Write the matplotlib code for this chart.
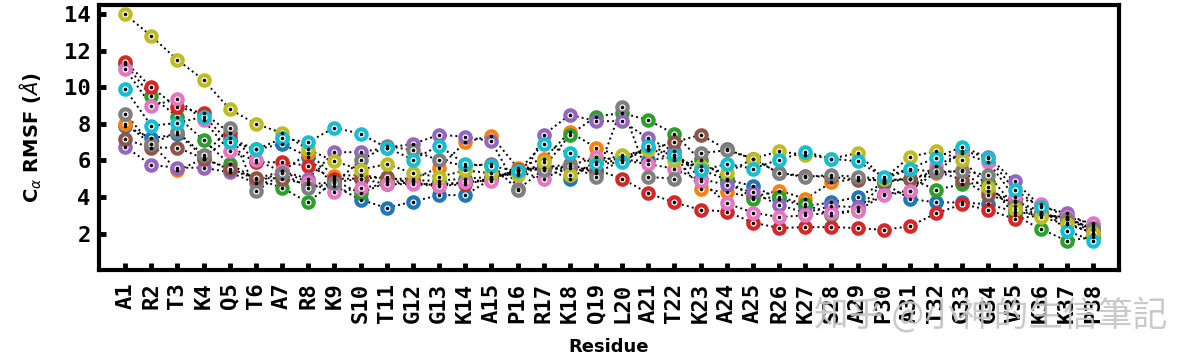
import numpy as np
import matplotlib.pyplot as plt

# residue labels along the x axis
residues = ['A1', 'R2', 'T3', 'K4', 'Q5', 'T6', 'A7', 'R8', 'K9', 'S10',
            'T11', 'G12', 'G13', 'K14', 'A15', 'P16', 'R17', 'K18', 'Q19', 'L20',
            'A21', 'T22', 'K23', 'A24', 'A25', 'R26', 'K27', 'S28', 'A29', 'P30',
            'A31', 'T32', 'G33', 'G34', 'V35', 'K36', 'K37', 'P38']

# C-alpha RMSF per replica (Angstrom)
rmsf_blue = [7.9, 7.2, 7.45, 6.2, 7.2, 6.6, 6.9, 6.2, 4.6, 3.85, 3.4, 3.75, 4.1, 4.1, 5.0, 5.5, 5.6, 5.0, 5.9, 6.0,
             6.0, 6.2, 5.5, 4.95, 4.6, 3.9, 3.5, 3.7, 4.0, 4.75, 3.9, 3.7, 3.7, 3.6, 3.2, 3.0, 2.9, 2.0]
rmsf_orange = [8.0, 6.9, 5.45, 6.1, 5.5, 5.0, 5.4, 6.4, 5.15, 5.2, 5.0, 5.0, 5.6, 7.0, 7.35, 5.6, 6.1, 7.55, 6.7, 6.2,
               6.6, 6.3, 4.45, 4.25, 4.0, 4.35, 3.9, 4.8, 5.0, 4.9, 5.0, 5.3, 5.45, 4.3, 3.8, 3.2, 2.6, 2.0]
rmsf_green = [11.3, 9.5, 8.4, 7.1, 5.8, 5.0, 4.5, 3.7, 4.9, 4.2, 4.8, 4.9, 4.9, 5.0, 5.1, 5.3, 5.6, 7.4, 8.4, 8.6,
              8.2, 7.45, 6.0, 5.0, 3.9, 4.0, 3.6, 3.0, 3.3, 4.8, 5.0, 4.4, 4.7, 4.8, 3.0, 2.25, 1.6, 1.8]
rmsf_red = [11.4, 10.0, 8.9, 8.6, 7.5, 5.9, 5.9, 5.7, 5.0, 5.0, 4.7, 4.8, 4.6, 4.7, 5.0, 5.5, 5.5, 5.6, 5.5, 5.0,
            4.2, 3.7, 3.3, 3.2, 2.6, 2.3, 2.35, 2.35, 2.3, 2.2, 2.4, 3.1, 3.6, 3.3, 2.8, 3.0, 2.9, 2.2]
rmsf_purple = [6.75, 5.75, 5.6, 5.6, 5.35, 4.75, 5.4, 5.0, 6.45, 6.45, 6.7, 6.9, 7.4, 7.3, 7.05, 4.45, 7.4, 8.5, 8.15, 8.15,
               7.2, 6.5, 5.0, 4.65, 4.25, 3.55, 3.15, 3.5, 3.45, 4.15, 4.35, 5.35, 6.5, 6.2, 4.85, 3.5, 3.1, 2.4]
rmsf_brown = [7.15, 6.7, 6.7, 6.1, 5.55, 5.05, 5.0, 4.7, 4.8, 5.0, 5.1, 4.75, 4.7, 4.8, 5.0, 5.5, 5.6, 5.8, 5.3, 6.0,
              6.6, 7.0, 7.4, 6.6, 6.1, 5.3, 5.15, 5.1, 4.95, 4.9, 5.0, 5.4, 4.95, 4.1, 3.7, 3.1, 2.8, 2.2]
rmsf_pink = [11.0, 9.0, 9.35, 8.2, 6.5, 6.0, 5.4, 4.8, 4.25, 4.5, 4.7, 4.7, 4.6, 4.8, 4.9, 5.4, 5.0, 5.7, 6.2, 6.0,
             5.8, 5.55, 4.9, 3.65, 3.15, 2.9, 3.0, 3.15, 3.25, 4.1, 4.3, 5.7, 6.4, 5.9, 4.0, 3.6, 2.9, 2.55]
rmsf_gray = [8.55, 6.9, 7.55, 6.3, 7.75, 4.3, 5.3, 4.5, 4.75, 6.0, 6.8, 6.55, 6.0, 5.7, 5.8, 4.4, 5.5, 5.7, 5.1, 8.95,
             5.1, 5.0, 6.4, 6.55, 6.1, 5.3, 5.1, 5.2, 5.1, 5.0, 5.5, 5.4, 5.4, 5.2, 3.5, 3.0, 2.8, 2.3]
rmsf_olive = [14.0, 12.8, 11.5, 10.4, 8.8, 8.0, 7.5, 6.6, 5.95, 5.5, 5.8, 5.3, 5.1, 5.45, 5.3, 5.2, 5.9, 5.2, 5.9, 6.3,
              6.55, 6.0, 5.7, 5.3, 6.1, 6.5, 6.3, 6.1, 6.4, 5.0, 6.2, 6.5, 6.05, 4.55, 3.35, 2.9, 2.5, 2.05]
rmsf_cyan = [9.9, 7.9, 8.05, 8.4, 7.0, 6.6, 7.2, 7.0, 7.8, 7.45, 6.7, 6.05, 6.8, 5.8, 5.7, 5.4, 6.9, 6.4, 5.8, 5.9,
             6.8, 6.3, 5.45, 5.8, 5.55, 6.05, 6.45, 6.1, 5.95, 5.1, 5.55, 6.15, 6.75, 6.15, 4.4, 3.45, 2.15, 1.6]

series = [rmsf_blue, rmsf_orange, rmsf_green, rmsf_red, rmsf_purple,
          rmsf_brown, rmsf_pink, rmsf_gray, rmsf_olive, rmsf_cyan]

x = np.arange(1, len(residues) + 1)

fig = plt.figure(figsize=(12.03, 3.63), dpi=100)
ax = fig.add_axes([0.0823, 0.256, 0.848, 0.730])

for i, vals in enumerate(series):
    color = f'C{i}'
    ax.plot(x, vals, linestyle=':', color='black', linewidth=1.4, zorder=2)
    ax.plot(x, vals, linestyle='none', marker='o', markersize=7.5, markeredgewidth=3,
            markeredgecolor=color, markerfacecolor='white', zorder=3)
    ax.plot(x, vals, linestyle='none', marker='o', markersize=1.6,
            color='black', zorder=4)

ax.set_xlim(0, len(residues) + 1)
ax.set_ylim(0, 14.5)
ax.set_xticks(x)
ax.set_xticklabels(residues, rotation=90, family='DejaVu Sans Mono',
                   fontweight='bold', fontsize=16)
ax.set_yticks([2, 4, 6, 8, 10, 12, 14])
ax.set_yticklabels(['2', '4', '6', '8', '10', '12', '14'],
                   family='DejaVu Sans Mono', fontweight='bold', fontsize=16)
ax.tick_params(direction='in', length=5, width=3.5)
ax.tick_params(axis='x', pad=9)
ax.tick_params(axis='y', pad=6)

for sp in ax.spines.values():
    sp.set_linewidth(3)

ax.set_xlabel('Residue', fontsize=13, fontweight='bold', labelpad=11)
ax.set_ylabel(r'C$_\alpha$ RMSF ($Å$)', fontsize=14, fontweight='bold', labelpad=14)

# watermark
fig.text(0.677, 0.128, '知乎 @小神的生信筆記', family=['Noto Sans CJK SC', 'DejaVu Sans'],
         fontsize=25, color='#c4c4c4', alpha=0.9, va='center', ha='left', zorder=10)

fig.savefig('out.png', dpi=100)
